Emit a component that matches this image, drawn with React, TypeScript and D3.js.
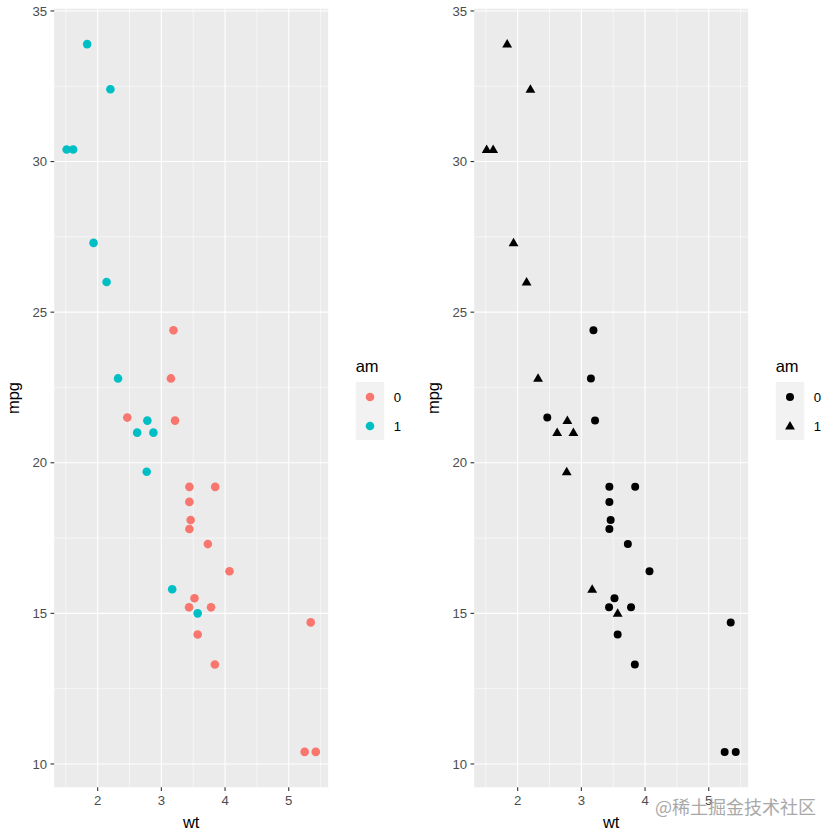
import React from "react";
import * as d3 from "d3";

const wt = [2.62, 2.875, 2.32, 3.215, 3.44, 3.46, 3.57, 3.19, 3.15, 3.44, 3.44, 4.07, 3.73, 3.78, 5.25, 5.424, 5.345, 2.2, 1.615, 1.835, 2.465, 3.52, 3.435, 3.84, 3.845, 1.935, 2.14, 1.513, 3.17, 2.77, 3.57, 2.78];
const mpg = [21.0, 21.0, 22.8, 21.4, 18.7, 18.1, 14.3, 24.4, 22.8, 19.2, 17.8, 16.4, 17.3, 15.2, 10.4, 10.4, 14.7, 32.4, 30.4, 33.9, 21.5, 15.5, 15.2, 13.3, 19.2, 27.3, 26.0, 30.4, 15.8, 19.7, 15.0, 21.4];
const am = [1, 1, 1, 0, 0, 0, 0, 0, 0, 0, 0, 0, 0, 0, 0, 0, 0, 1, 1, 1, 0, 0, 0, 0, 0, 1, 1, 1, 1, 1, 1, 1];
const amLevels = ["0", "1"];
const amColors = ["#F8766D", "#00BFC4"];
const xTicks = [2, 3, 4, 5];
const yTicks = [10, 15, 20, 25, 30, 35];
const xMinor = [1.5, 2.5, 3.5, 4.5, 5.5];
const yMinor = [12.5, 17.5, 22.5, 27.5, 32.5];

const FONT = "'Liberation Sans', Arial, sans-serif";

function expand(ext: [number, number]): [number, number] {
  const r = ext[1] - ext[0];
  return [ext[0] - r * 0.05, ext[1] + r * 0.05];
}

const xDom = expand(d3.extent(wt) as [number, number]);
const yDom = expand(d3.extent(mpg) as [number, number]);

function Panel({ ox, mode }: { ox: number; mode: "color" | "shape" }) {
  const left = ox + 54.2;
  const right = ox + 328.2;
  const top = 8.7;
  const bottom = 787.3;
  const x = d3.scaleLinear().domain(xDom).range([left, right]);
  const y = d3.scaleLinear().domain(yDom).range([bottom, top]);
  const tri = d3.symbol().type(d3.symbolTriangle).size(42)();
  const circ = d3.symbol().type(d3.symbolCircle).size(50)();
  const legX = ox + 355.7;
  return (
    <g>
      <rect x={left} y={top} width={right - left} height={bottom - top} fill="#EBEBEB" />
      {xMinor.filter((v) => x(v) >= left && x(v) <= right).map((v) => (
        <line key={"xm" + v} x1={x(v)} x2={x(v)} y1={top} y2={bottom} stroke="#fff" strokeWidth={0.55} />
      ))}
      {yMinor.map((v) => (
        <line key={"ym" + v} x1={left} x2={right} y1={y(v)} y2={y(v)} stroke="#fff" strokeWidth={0.55} />
      ))}
      {xTicks.map((v) => (
        <line key={"xM" + v} x1={x(v)} x2={x(v)} y1={top} y2={bottom} stroke="#fff" strokeWidth={1.1} />
      ))}
      {yTicks.map((v) => (
        <line key={"yM" + v} x1={left} x2={right} y1={y(v)} y2={y(v)} stroke="#fff" strokeWidth={1.1} />
      ))}
      {wt.map((w, i) => {
        const tx = x(w);
        const ty = y(mpg[i]);
        if (mode === "color") {
          return <circle key={i} cx={tx} cy={ty} r={4.3} fill={amColors[am[i]]} />;
        }
        return (
          <path key={i} d={am[i] === 1 ? tri! : circ!} transform={`translate(${tx},${ty + (am[i] === 1 ? 0.6 : 0)})`} fill="#000" />
        );
      })}
      {/* axes */}
      {yTicks.map((v) => (
        <g key={"yt" + v}>
          <line x1={left - 3.7} x2={left} y1={y(v)} y2={y(v)} stroke="#333" strokeWidth={1.1} />
          <text x={left - 7} y={y(v)} dy="0.35em" textAnchor="end" fontSize={13.2} fill="#4D4D4D" fontFamily={FONT}>{v}</text>
        </g>
      ))}
      {xTicks.map((v) => (
        <g key={"xt" + v}>
          <line x1={x(v)} x2={x(v)} y1={bottom} y2={bottom + 3.7} stroke="#333" strokeWidth={1.1} />
          <text x={x(v)} y={bottom + 18} textAnchor="middle" fontSize={13.2} fill="#4D4D4D" fontFamily={FONT}>{v}</text>
        </g>
      ))}
      <text x={(left + right) / 2} y={828} textAnchor="middle" fontSize={16.5} fill="#000" fontFamily={FONT}>wt</text>
      <text transform={`translate(${ox + 19},${(top + bottom) / 2}) rotate(-90)`} textAnchor="middle" fontSize={16.5} fill="#000" fontFamily={FONT}>mpg</text>
      {/* legend */}
      <text x={legX} y={372} fontSize={16.5} fill="#000" fontFamily={FONT}>am</text>
      <rect x={legX} y={382} width={28.6} height={58} fill="#F2F2F2" />
      {amLevels.map((lv, k) => {
        const cy = 397 + k * 29;
        const cx = legX + 14.3;
        return (
          <g key={lv}>
            {mode === "color" ? (
              <circle cx={cx} cy={cy} r={4.3} fill={amColors[k]} />
            ) : (
              <path d={k === 1 ? tri! : circ!} transform={`translate(${cx},${cy + (k === 1 ? 0.6 : 0)})`} fill="#000" />
            )}
            <text x={legX + 38} y={cy} dy="0.35em" fontSize={13.2} fill="#000" fontFamily={FONT}>{lv}</text>
          </g>
        );
      })}
    </g>
  );
}

export default function App() {
  return (
    <svg width={840} height={840} style={{ position: "absolute", left: 0, top: 0, background: "#fff" }}>
      <rect width={840} height={840} fill="#fff" />
      <Panel ox={0} mode="color" />
      <Panel ox={420} mode="shape" />
      <text x={816} y={814} textAnchor="end" fontSize={18} fill="#9a9a9a" opacity={0.85} fontFamily="'Noto Sans CJK SC', sans-serif">@稀土掘金技术社区</text>
    </svg>
  );
}
